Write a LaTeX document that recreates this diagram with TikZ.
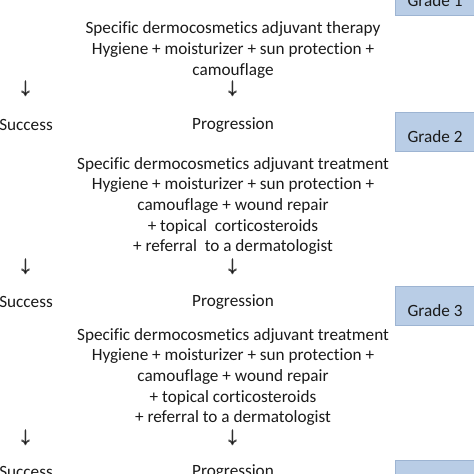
\documentclass[tikz,border=0pt]{standalone}
\usepackage{amsmath}
\usepackage{fontspec}
\setmainfont[Ligatures=NoCommon]{Carlito}
\definecolor{gradefill}{HTML}{B9CDE6}
\definecolor{gradeline}{HTML}{9DB4D2}
\definecolor{ink}{HTML}{1A1A1A}
\newcommand{\darr}{$\smash{\pmb{\downarrow}}$}
\begin{document}
\begin{tikzpicture}[x=1pt,y=-1pt,
  txt/.style={font=\fontsize{17.2}{20.7}\selectfont, align=center, inner sep=0pt, text=ink, yshift=-2pt},
  arr/.style={font=\fontsize{16}{16}\selectfont, inner sep=0pt, text height=9pt, text depth=1pt, text=ink},
  grade/.style={draw=gradeline, line width=0.8pt, fill=gradefill, minimum width=80pt, minimum height=39pt,
    inner sep=0pt, text height=21pt, text depth=0pt, font=\fontsize{17.2}{20}\selectfont, text=ink}]
\useasboundingbox (0,0) rectangle (474,474);
% grade boxes
\node[grade] (g1) at (435,-4.5) {Grade 1};
\node[grade] (g2) at (435,131.5) {Grade 2};
\node[grade] (g3) at (435,306) {Grade 3};
\node[grade] (g4) at (435,479.5) {Grade 4};
% block 1
\node[txt] (b1) at (233,48) {Specific dermocosmetics adjuvant therapy\\
Hygiene + moisturizer + sun protection +\\ camouflage};
\node[arr] (a1l) at (26,89) {\darr};
\node[arr] (a1r) at (233,89) {\darr};
\node[txt] (s1) at (26,123) {Success};
\node[txt] (p1) at (233,123) {Progression};
% block 2
\node[txt] (b2) at (233,204) {Specific dermocosmetics adjuvant treatment\\
Hygiene + moisturizer + sun protection +\\ camouflage + wound repair\\
+ topical\ \ corticosteroids\\ + referral\ \ to a dermatologist};
\node[arr] (a2l) at (26,267) {\darr};
\node[arr] (a2r) at (233,267) {\darr};
\node[txt] (s2) at (26,300) {Success};
\node[txt] (p2) at (233,300) {Progression};
% block 3
\node[txt] (b3) at (233,375) {Specific dermocosmetics adjuvant treatment\\
Hygiene + moisturizer + sun protection +\\ camouflage + wound repair\\
+ topical corticosteroids\\ + referral to a dermatologist};
\node[arr] (a3l) at (26,438) {\darr};
\node[arr] (a3r) at (233,438) {\darr};
\node[txt] (s3) at (26,470) {Success};
\node[txt] (p3) at (233,470) {Progression};
\end{tikzpicture}
\end{document}
